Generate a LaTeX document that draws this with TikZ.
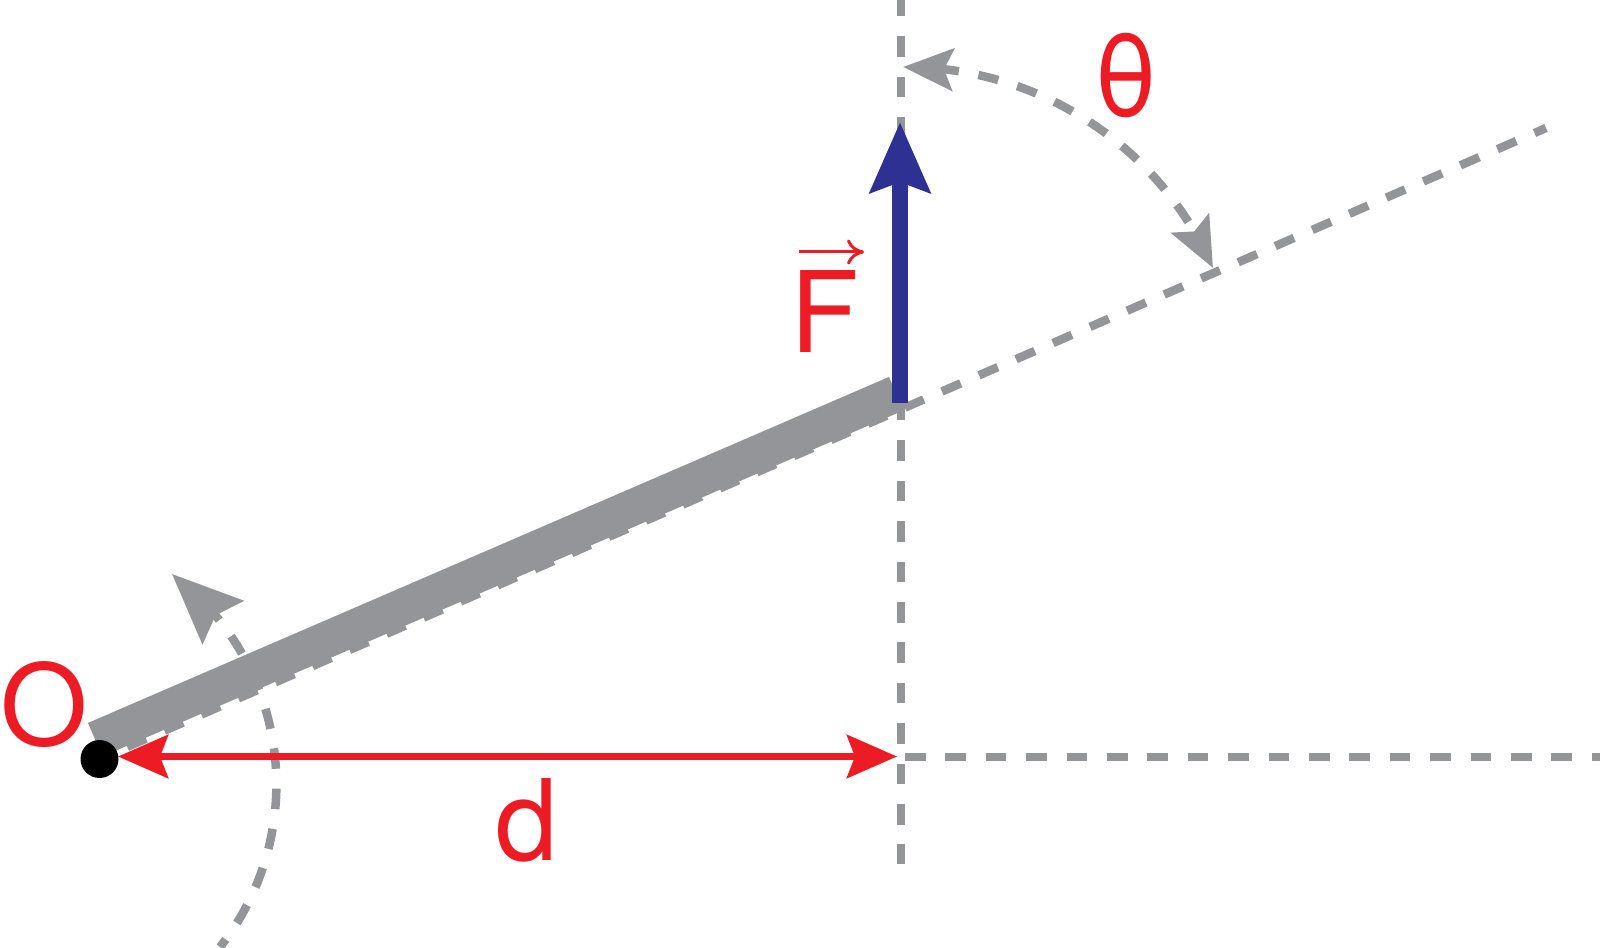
\documentclass[tikz,border=0pt]{standalone}
\usepackage{fontspec}
\setmainfont{TeX Gyre Heros}
\usetikzlibrary{arrows.meta,bending}
\definecolor{lever}{HTML}{939598}
\definecolor{labelred}{HTML}{ED1C24}
\definecolor{forceblue}{HTML}{2E3192}

\begin{document}
\begin{tikzpicture}[
  guide/.style={draw=lever,line width=0.085cm,dash pattern=on 0.205cm off 0.199cm},
  greyhead/.tip={Stealth[length=0.5cm,width=0.42cm,inset=0.09cm,lever]},
  bighead/.tip={Stealth[length=0.7cm,width=0.59cm,inset=0.1cm,lever]},
  redhead/.tip={Stealth[length=0.5cm,width=0.43cm,inset=0.08cm,labelred]},
  mylabel/.style={text=labelred,font=\fontsize{32}{32}\selectfont,inner sep=0pt,anchor=base}
]

\useasboundingbox (0,0) rectangle (16,9.47);

\coordinate (o) at (0.995,1.88);
\coordinate (ray) at (15.46,8.19);
\coordinate (top) at (9.01,9.47);
\coordinate (bottom) at (9.01,0.83);
\coordinate (hstart) at (9.05,1.90);
\coordinate (hend) at (16,1.90);
\coordinate (thetaa) at (12.13,6.79);
\coordinate (thetab) at (9.03,8.80);
\coordinate (swinga) at (2.20,0);
\coordinate (swingb) at (1.72,3.73);
\coordinate (bara) at (0.952,2.073);
\coordinate (barb) at (8.962,5.533);
\coordinate (forcea) at (9.00,5.44);
\coordinate (forceb) at (9.00,8.25);
\coordinate (da) at (1.18,1.905);
\coordinate (db) at (8.97,1.905);

\path (top) edge[guide,dash phase=0.04cm] (bottom)
(hstart) edge[guide] (hend)
(o) edge[guide,dash phase=0.101cm] (ray)
(thetaa) edge[guide,dash phase=0.265cm,greyhead-greyhead,bend right=33.35,looseness=0.93] (thetab)
(swinga) edge[guide,dash phase=0.11cm,-bighead,bend right=45.6] (swingb)
;

\path (bara) edge[draw=lever,line width=0.365cm] (barb);
\path (forcea) edge[draw=forceblue,line width=0.16cm,-{Stealth[length=0.7cm,width=0.59cm,inset=0.1cm,forceblue]}] (forceb);
\path (da) edge[draw=labelred,line width=0.075cm,redhead-redhead] (db);

\node[draw=none,fill=black,circle,minimum size=0.38cm,inner sep=0pt] (pivot) at (o) {};

\node[mylabel] (olabel) at (0.445,2.015) {O};
\node[mylabel] (flabel) at (8.245,5.94) {F};
\node[mylabel] (dlabel) at (5.27,0.87) {d};
\node[mylabel] (thetalabel) at (11.26,8.305) {θ};

\coordinate (fa) at (7.99,6.95);
\coordinate (fb) at (8.64,6.95);
\path (fa) edge[draw=labelred,line width=0.03cm,-{Computer Modern Rightarrow[length=0.17cm,width=0.25cm,labelred]}] (fb);

\end{tikzpicture}
\end{document}
